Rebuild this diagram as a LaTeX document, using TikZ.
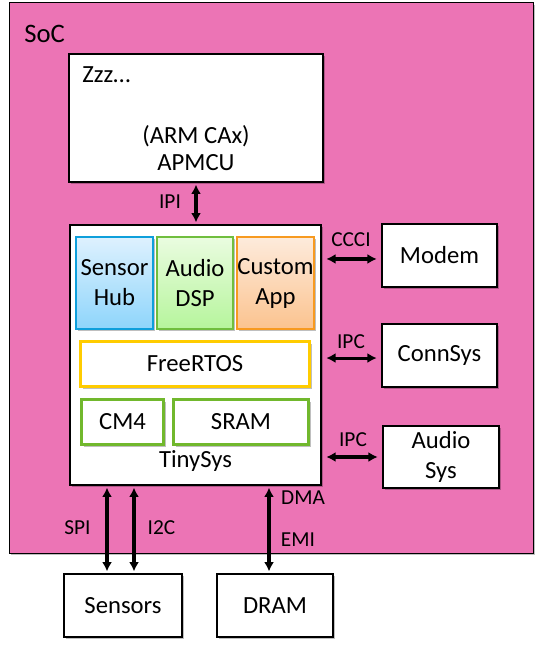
\documentclass[tikz,border=0pt]{standalone}
\usepackage{fontspec}
\setmainfont{Carlito}
\usetikzlibrary{arrows.meta,positioning,shadows}

\definecolor{socpink}{RGB}{236,116,181}
\definecolor{hubblue}{RGB}{14,159,219}
\definecolor{hubtop}{RGB}{222,241,254}
\definecolor{hubbot}{RGB}{142,213,251}
\definecolor{dspgreen}{RGB}{112,190,62}
\definecolor{dsptop}{RGB}{234,252,224}
\definecolor{dspbot}{RGB}{182,245,156}
\definecolor{apporange}{RGB}{247,154,32}
\definecolor{apptop}{RGB}{253,235,220}
\definecolor{appbot}{RGB}{251,195,143}
\definecolor{rtosyellow}{RGB}{255,204,0}
\definecolor{memgreen}{RGB}{113,184,45}

\begin{document}
\begin{tikzpicture}[x=0.75pt,y=-0.75pt,
  every node/.style={
    font=\fontsize{18.5}{22.5}\selectfont,
    align=center,
    inner sep=0pt
  },
  wh/.style 2 args={minimum width=#1*0.75pt, minimum height=#2*0.75pt},
  soft shadow/.style={drop shadow={shadow xshift=1.5pt, shadow yshift=-1.5pt, opacity=0.25, fill=black}},
  box/.style={rectangle, draw=black, line width=0.9pt, fill=white, soft shadow},
  part/.style={rectangle, line width=1.6pt, soft shadow},
  lbl/.style={font=\fontsize{16}{19}\selectfont},
  >={Latex[length=7pt,width=7.5pt]}, %arrow tips
  myline/.style={draw, line width=2.3pt, black},
  shorter/.style={shorten <=1.5pt,shorten >=1.5pt},
  side/.style={shorten <=3.5pt,shorten >=3.5pt}
  ]
\useasboundingbox (0,0) rectangle (541,649);
\node[box, fill=socpink, line width=0.75pt, wh={524}{550}] (soc) at (271,278) {};
\node[anchor=west, font=\fontsize{20}{24}\selectfont] (soclbl) at (24,33.5) {SoC};

\node[box, wh={254}{128}] (apmcu) at (196,118) {};
\node[anchor=base west] (zzz) at (82,83) {Zzz…};
\node[anchor=base] (arm) at (196,144) {(ARM CAx)};
\node[anchor=base] (apmcutxt) at (196,171) {APMCU};

\node[box, wh={251}{260}] (tiny) at (195.5,355) {};
\node[anchor=base] (tinylbl) at (195.5,467) {TinySys};
\begin{scope}[every node/.append style={part}]
  \node[draw=hubblue, top color=hubtop, bottom color=hubbot, wh={77}{92}] (hub) at (114.5,283) {Sensor\\Hub};
  \node[draw=dspgreen, top color=dsptop, bottom color=dspbot, wh={76}{92}] (dsp) at (195,283) {Audio\\DSP};
  \node[draw=apporange, top color=apptop, bottom color=appbot, wh={77}{92}] (app) at (275.5,283) {Custom\\App};
  \node[draw=rtosyellow, fill=white, line width=2.6pt, wh={229}{45}] (rtos) at (195,364) {FreeRTOS};
  \node[draw=memgreen, fill=white, line width=2.2pt, wh={82}{45}] (cm4) at (122.5,422) {CM4};
  \node[draw=memgreen, fill=white, line width=2.2pt, wh={135}{45}] (sram) at (241,422) {SRAM};
\end{scope}

\node[box, wh={115}{63}] (modem) at (439.5,255.5) {Modem};
\node[box, wh={115}{63}] (conn) at (439.5,355.5) {ConnSys};
\node[box, wh={116}{62}] (asys) at (441,457) {Audio\\Sys};
\node[box, wh={118}{63}] (sensors) at (123,605.5) {Sensors};
\node[box, wh={116}{63}] (dram) at (275,605.5) {DRAM};

\begin{scope}[every node/.append style={lbl}]
  \node (ipi) at (170,201.5) {IPI};
  \node (ccci) at (351,240) {CCCI};
  \node (ipc1) at (351,342) {IPC};
  \node (ipc2) at (353,440) {IPC};
  \node (spi) at (77.5,528) {SPI};
  \node (i2c) at (161.5,528) {I2C};
  \node (dma) at (303,497.5) {DMA};
  \node (emi) at (298,539.5) {EMI};
\end{scope}

\path[myline,shorter] (apmcu.south) edge[<->] (apmcu.south |- tiny.north)
                      ([xshift=-12pt]sensors.north) edge[<->] ([xshift=-12pt]sensors.north |- tiny.south)
                      ([xshift=8.25pt]sensors.north) edge[<->] ([xshift=8.25pt]sensors.north |- tiny.south)
                      ([xshift=-4.5pt]dram.north) edge[<->] ([xshift=-4.5pt]dram.north |- tiny.south)
                      ;
\path[myline,side] ([yshift=-2.6pt]modem.west) edge[<->] ([yshift=-2.6pt]modem.west -| tiny.east)
                   ([yshift=-1.9pt]conn.west) edge[<->] ([yshift=-1.9pt]conn.west -| tiny.east)
                   (asys.west) edge[<->] (asys.west -| tiny.east)
                   ;
\end{tikzpicture}
\end{document}
